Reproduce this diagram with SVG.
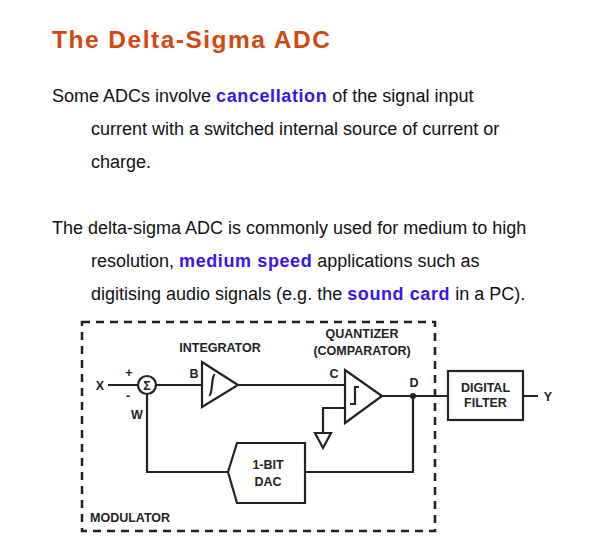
<svg xmlns="http://www.w3.org/2000/svg" width="602" height="549" viewBox="0 0 602 549">
<style>
.t{font-family:"Liberation Sans",Arial,sans-serif;font-size:18px;fill:#111}
.b{font-weight:bold;fill:#3a14f0;letter-spacing:0.6px}
.l{font-family:"Liberation Sans",Arial,sans-serif;font-size:12.5px;font-weight:bold;fill:#222}
.s{fill:none;stroke:#222;stroke-width:2.2}
</style>
<rect width="602" height="549" fill="#fff"/>
<text x="52" y="48" font-family="'Liberation Sans',Arial,sans-serif" font-size="24.5" font-weight="bold" fill="#d4470f" letter-spacing="1.5">The Delta-Sigma ADC</text>
<text class="t" x="52" y="102">Some ADCs involve <tspan class="b">cancellation</tspan> of the signal input</text>
<text class="t" x="91" y="135">current with a switched internal source of current or</text>
<text class="t" x="91" y="168">charge.</text>
<text class="t" x="52" y="234">The delta-sigma ADC is commonly used for medium to high</text>
<text class="t" x="91" y="267">resolution, <tspan class="b">medium speed</tspan> applications such as</text>
<text class="t" x="91" y="300">digitising audio signals (e.g. the <tspan class="b">sound card</tspan> in a PC).</text>
<g id="modulator"><rect x="82" y="322" width="353" height="209" fill="none" stroke="#222" stroke-width="2.5" stroke-dasharray="8,6"/><text class="l" x="90" y="522">MODULATOR</text></g>
<g id="connectors" class="s">
<path d="M108 385H138M156 385H202M238 385H345M382 396H448M523 396H538"/>
<path d="M413 396V472H305M228 472H147V394"/>
<path d="M345 408H323V433"/>
</g>
<circle cx="413" cy="396" r="3" fill="#222"/>
<g id="sum"><circle class="s" cx="147" cy="385" r="9"/><text class="l" x="147" y="390" text-anchor="middle" font-size="13">Σ</text>
<text class="l" x="100" y="390" text-anchor="middle">X</text><text class="l" x="129" y="377" text-anchor="middle">+</text><text class="l" x="128" y="400" text-anchor="middle">-</text><text class="l" x="137" y="419" text-anchor="middle">W</text></g>
<g id="integrator"><path class="s" d="M202 362L238 385L202 407Z"/><path class="s" stroke-width="1.3" d="M209 395Q211 396 212 385Q213 374 215 375"/><text class="l" x="194" y="378" text-anchor="middle">B</text><text class="l" x="220" y="352" text-anchor="middle">INTEGRATOR</text></g>
<g id="comparator"><path class="s" d="M345 370L382 396L345 423Z"/><path class="s" stroke-width="1.6" d="M350 404H355V387H359"/><text class="l" x="334" y="378" text-anchor="middle">C</text><text class="l" x="414" y="387" text-anchor="middle">D</text><text class="l" x="362" y="338" text-anchor="middle">QUANTIZER</text><text class="l" x="362" y="355" text-anchor="middle">(COMPARATOR)</text></g>
<g id="ground"><path class="s" d="M315 433H331L323 448Z"/></g>
<g id="dac"><path class="s" d="M228 472L237 443H305V503H237Z"/><text class="l" x="268" y="469" text-anchor="middle">1-BIT</text><text class="l" x="268" y="486" text-anchor="middle">DAC</text></g>
<g id="filter"><rect class="s" stroke-width="2.6" x="448" y="371" width="75" height="49"/><text class="l" x="485.5" y="392" text-anchor="middle">DIGITAL</text><text class="l" x="485.5" y="407" text-anchor="middle">FILTER</text><text class="l" x="548" y="401" text-anchor="middle">Y</text></g>
</svg>
